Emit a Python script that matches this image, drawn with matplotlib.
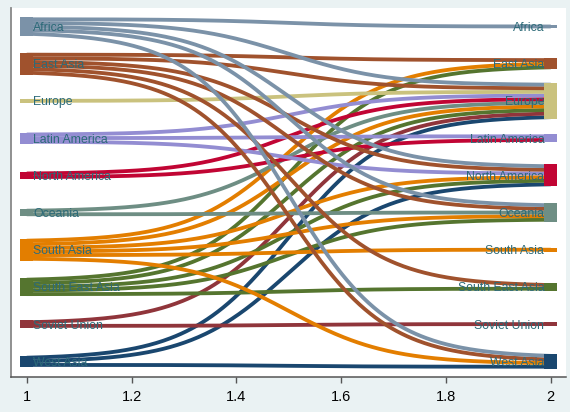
import numpy as np
import matplotlib

matplotlib.use("Agg")

import matplotlib.pyplot as plt

# regions, top to bottom
REGIONS = [
    "Africa", "East Asia", "Europe", "Latin America", "North America",
    "Oceania", "South Asia", "South East Asia", "Soviet Union", "West Asia",
]
COLORS = [
    "#7b92a8", "#a0522d", "#cac27e", "#938dd2", "#c10534",
    "#6e8e84", "#e37e00", "#55752f", "#90353b", "#1a476f",
]

# flows: source -> target, value
SOURCES = [
    "Africa", "Africa", "Africa", "Africa", "Africa",
    "East Asia", "East Asia", "East Asia", "East Asia", "East Asia", "East Asia",
    "Europe",
    "Latin America", "Latin America", "Latin America",
    "North America", "North America",
    "Oceania", "Oceania",
    "South Asia", "South Asia", "South Asia", "South Asia", "South Asia", "South Asia",
    "South East Asia", "South East Asia", "South East Asia", "South East Asia", "South East Asia",
    "Soviet Union", "Soviet Union",
    "West Asia", "West Asia", "West Asia",
]
TARGETS = [
    "Africa", "Europe", "North America", "Oceania", "West Asia",
    "East Asia", "Europe", "North America", "Oceania", "South East Asia", "West Asia",
    "Europe",
    "Europe", "Latin America", "North America",
    "Europe", "Latin America",
    "Europe", "Oceania",
    "East Asia", "Europe", "North America", "Oceania", "South Asia", "West Asia",
    "East Asia", "Europe", "North America", "Oceania", "South East Asia",
    "Europe", "Soviet Union",
    "Europe", "North America", "West Asia",
]
VALUES = [1] * len(SOURCES)

UNIT = 0.097       # vertical size of one unit of flow
BAR_W = 0.025
LINK_LW = 2.75
TEXT_COLOR = "#2c6a78"

plt.rcParams["font.family"] = ["Liberation Sans", "DejaVu Sans"]

n = len(REGIONS)
node_y = {r: n - i for i, r in enumerate(REGIONS)}
idx = {r: i for i, r in enumerate(REGIONS)}

out_total = {r: 0 for r in REGIONS}
in_total = {r: 0 for r in REGIONS}
for s, t, v in zip(SOURCES, TARGETS, VALUES):
    out_total[s] += v
    in_total[t] += v

# stacking offsets on each side
left_y = {}
cum = {r: 0 for r in REGIONS}
for k in sorted(range(len(SOURCES)), key=lambda k: (idx[SOURCES[k]], idx[TARGETS[k]])):
    s, v = SOURCES[k], VALUES[k]
    top = node_y[s] + out_total[s] * UNIT / 2
    left_y[k] = top - (cum[s] + v / 2) * UNIT
    cum[s] += v

right_y = {}
cum = {r: 0 for r in REGIONS}
for k in sorted(range(len(SOURCES)), key=lambda k: (idx[TARGETS[k]], idx[SOURCES[k]])):
    t, v = TARGETS[k], VALUES[k]
    top = node_y[t] + in_total[t] * UNIT / 2
    right_y[k] = top - (cum[t] + v / 2) * UNIT
    cum[t] += v

fig = plt.figure(figsize=(5.7, 4.12), dpi=100)
fig.patch.set_facecolor("#eaf2f3")
ax = fig.add_axes([11 / 570, 35 / 412, 555 / 570, 369 / 412])
ax.set_facecolor("white")

xs = np.linspace(1, 2, 300)
steep = 10.5
raw = 1 / (1 + np.exp(-steep * (xs - 1.5)))
shape = (raw - raw[0]) / (raw[-1] - raw[0])

order = sorted(range(len(SOURCES)), key=lambda k: (-idx[SOURCES[k]], idx[TARGETS[k]]))
for k in order:
    y0, y1 = left_y[k], right_y[k]
    ys = y0 + (y1 - y0) * shape
    ax.plot(xs, ys, color=COLORS[idx[SOURCES[k]]], lw=LINK_LW,
            solid_capstyle="butt", zorder=2)

for r in REGIONS:
    c = COLORS[idx[r]]
    if out_total[r]:
        h = out_total[r] * UNIT
        ax.bar(1, h, bottom=node_y[r] - h / 2, width=BAR_W, color=c, lw=0, zorder=3)
    if in_total[r]:
        h = in_total[r] * UNIT
        ax.bar(2, h, bottom=node_y[r] - h / 2, width=BAR_W, color=c, lw=0, zorder=3)
    ax.text(1 + BAR_W / 2, node_y[r], r, ha="left", va="center_baseline",
            fontsize=8.8, color=TEXT_COLOR, zorder=4)
    ax.text(2 - BAR_W / 2, node_y[r], r, ha="right", va="center_baseline",
            fontsize=8.8, color=TEXT_COLOR, zorder=4)

ax.set_xlim(0.970, 2.029)
ax.set_ylim(0.578, 10.497)
ax.set_xticks([1, 1.2, 1.4, 1.6, 1.8, 2])
ax.set_xticklabels(["1", "1.2", "1.4", "1.6", "1.8", "2"])
ax.set_yticks([])
ax.tick_params(axis="x", length=4.5, width=1, color="#555555", pad=5,
               labelsize=10.5, labelcolor="black")
ax.spines[["top", "right"]].set_visible(False)
ax.spines["left"].set_color("#888888")
ax.spines["left"].set_linewidth(1.3)
ax.spines["bottom"].set_color("#555555")
ax.spines["bottom"].set_linewidth(1.1)

fig.savefig("out.png", dpi=100, facecolor=fig.get_facecolor())
